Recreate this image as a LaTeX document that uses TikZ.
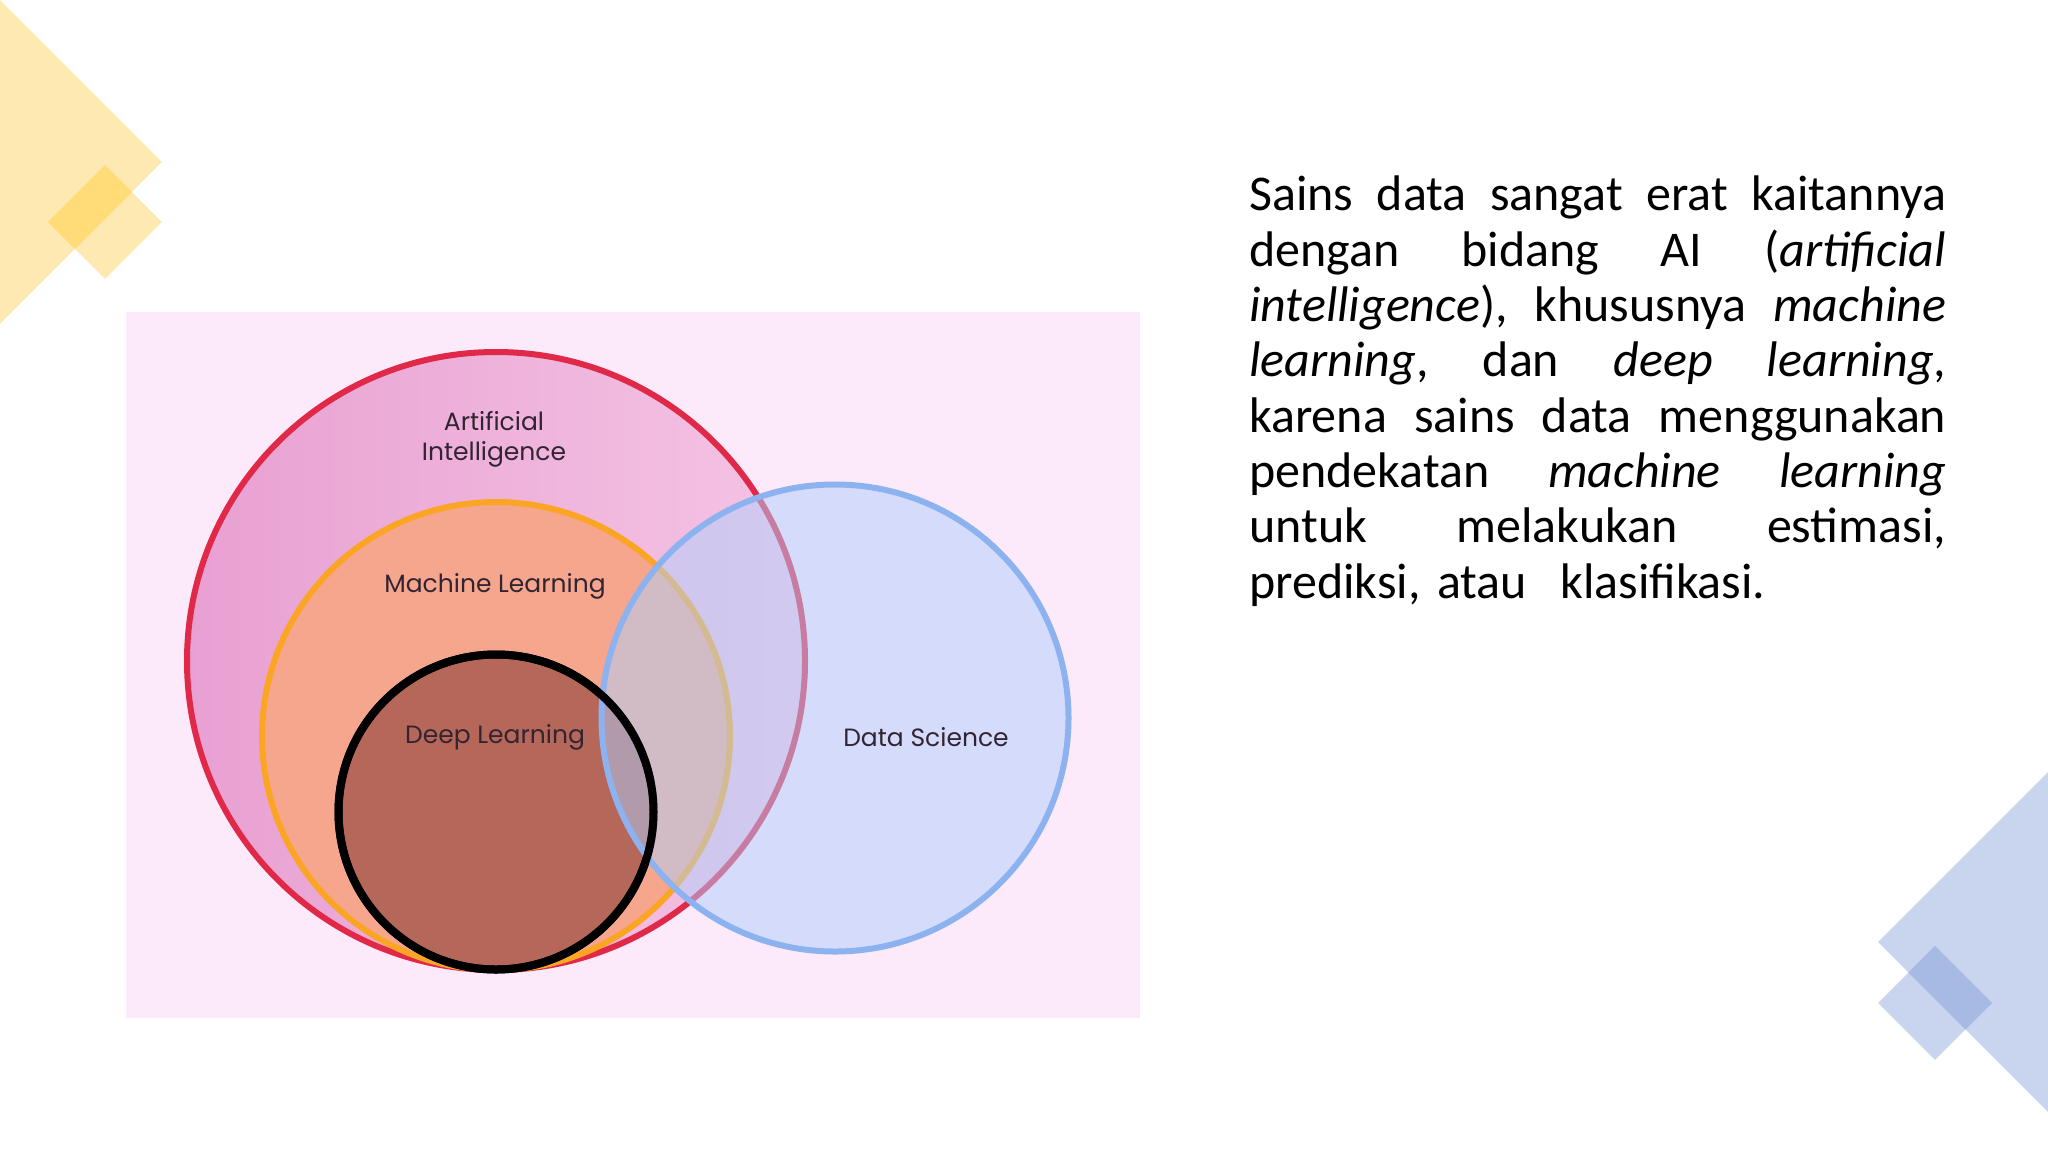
\documentclass[tikz,border=0pt]{standalone}
\usepackage{fontspec}
\setmainfont{Carlito}
\newfontfamily\vennfont{Poppins}
\usetikzlibrary{shapes.geometric, positioning}

\definecolor{yellowLight}{RGB}{255,233,179}
\definecolor{yellowDark}{RGB}{255,220,120}
\definecolor{blueLight}{RGB}{201,212,238}
\definecolor{blueDark}{RGB}{167,186,228}
\definecolor{panelPink}{RGB}{252,233,250}
\definecolor{aiLeft}{RGB}{232,160,210}
\definecolor{aiRight}{RGB}{245,196,228}
\definecolor{aiRed}{RGB}{224,40,72}
\definecolor{mlFill}{RGB}{245,166,140}
\definecolor{mlOrange}{RGB}{250,165,35}
\definecolor{dlFill}{RGB}{181,103,90}
\definecolor{dsFill}{RGB}{175,208,253}
\definecolor{dsBlue}{RGB}{140,178,240}
\definecolor{labelText}{RGB}{50,36,50}

\begin{document}
\begin{tikzpicture}[x=1pt, y=-1pt,
    deco/.style={diamond, draw=none, inner sep=0pt, minimum size=#1},
    ring/.style={circle, inner sep=0pt, minimum size=#1},
    tag/.style={font=\vennfont\fontsize{25}{30}\selectfont, text=labelText, align=center},
    body/.style={font=\fontsize{50}{55.3}\selectfont, text width=697pt, align=left,
        inner sep=0pt, anchor=north west}
]
\useasboundingbox (0,0) rectangle (2048,1152);
\clip (0,0) rectangle (2048,1152);
\fill[white] (0,0) rectangle (2048,1152);

% corner decorations
\node (Ybig) [deco=324, fill=yellowLight] at (0,162) {};
\node (Ysmall) [deco=114, fill=yellowLight] at (105,222) {};
\begin{scope}
    \clip (Ybig.north) -- (Ybig.east) -- (Ybig.south) -- (Ybig.west) -- cycle;
    \fill[yellowDark] (Ysmall.north) -- (Ysmall.east) -- (Ysmall.south) -- (Ysmall.west) -- cycle;
\end{scope}
\node (Bbig) [deco=340, fill=blueLight] at (2048,942) {};
\node (Bsmall) [deco=114, fill=blueLight] at (1935,1003) {};
\begin{scope}
    \clip (Bbig.north) -- (Bbig.east) -- (Bbig.south) -- (Bbig.west) -- cycle;
    \fill[blueDark] (Bsmall.north) -- (Bsmall.east) -- (Bsmall.south) -- (Bsmall.west) -- cycle;
\end{scope}

% venn panel
\node (panel) [fill=panelPink, minimum width=1014, minimum height=706, inner sep=0pt] at (633,665) {};
\node (AI) [ring=618, draw=aiRed, line width=6pt, left color=aiLeft, right color=aiRight] at (496,661) {};
\node (ML) [ring=468, draw=mlOrange, line width=6pt, fill=mlFill] at (496,736) {};
\node (DL) [ring=315, draw=black, line width=8pt, fill=dlFill] at (496,812) {};
\node (DS) [ring=467, fill=dsFill, fill opacity=0.5, draw=dsBlue, draw opacity=1, line width=6pt] at (835,718) {};
\draw[black, line width=8pt] (DL.center) circle[radius=157.5];

\node (AItag) [tag] at (494,439) {Artificial\\Intelligence};
\node (MLtag) [tag] at (495,586) {Machine Learning};
\node (DLtag) [tag] at (495,737) {Deep Learning};
\node (DStag) [tag] at (926,737) {Data Science};

% paragraph
\node (para) [body] at (1249,176) {%
\makebox[697pt][s]{Sains\hfill data\hfill sangat\hfill erat\hfill kaitannya}\\
\makebox[697pt][s]{dengan\hfill bidang\hfill AI\hfill (\textit{artificial}}\\
\makebox[697pt][s]{\textit{intelligence}),\hfill khususnya\hfill \textit{machine}}\\
\makebox[697pt][s]{\textit{learning},\hfill dan\hfill \textit{deep}\hfill \textit{learning},}\\
\makebox[697pt][s]{karena\hfill sains\hfill data\hfill menggunakan}\\
\makebox[697pt][s]{pendekatan\hfill \textit{machine}\hfill \textit{learning}}\\
\makebox[697pt][s]{untuk\hfill melakukan\hfill estimasi,}\\
prediksi, atau\ \ klasifikasi.};
\end{tikzpicture}
\end{document}
